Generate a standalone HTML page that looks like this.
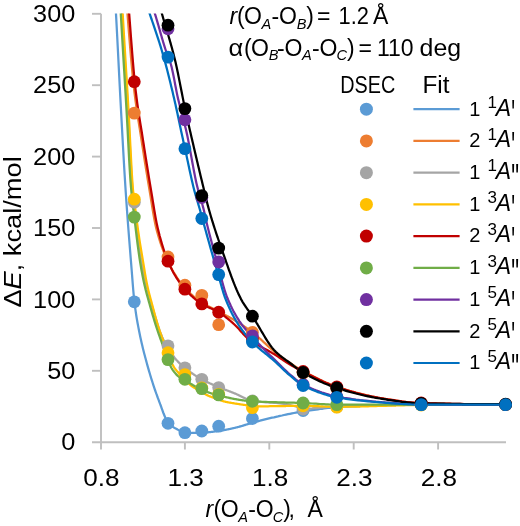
<!DOCTYPE html>
<html lang="en"><head><meta charset="utf-8"><title>Potential energy curves</title>
<style>
html,body{margin:0;padding:0;background:#fff}
svg{display:block}
</style></head>
<body>
<svg width="520" height="526" viewBox="0 0 520 526">
<defs><clipPath id="plot"><rect x="95" y="13.6" width="420" height="440"/></clipPath></defs>
<rect width="520" height="526" fill="#fff"/>
<g stroke="#BFBFBF" stroke-width="1.9" fill="none">
<path d="M101,13.7 V449.5"/>
<path d="M92,442.3 H506"/>
<path d="M92,370.8 H101"/>
<path d="M92,299.4 H101"/>
<path d="M92,228.0 H101"/>
<path d="M92,156.6 H101"/>
<path d="M92,85.2 H101"/>
<path d="M92,13.8 H101"/>
<path d="M184.9,442.3 V449.5"/>
<path d="M269.3,442.3 V449.5"/>
<path d="M353.7,442.3 V449.5"/>
<path d="M438.1,442.3 V449.5"/>
</g>
<g font-family="&quot;Liberation Sans&quot;, sans-serif" font-size="23" fill="#000" text-anchor="end">
<text x="75.3" y="450.4" textLength="14.1" lengthAdjust="spacingAndGlyphs">0</text>
<text x="75.3" y="379.0" textLength="28.1" lengthAdjust="spacingAndGlyphs">50</text>
<text x="75.3" y="307.6" textLength="42.2" lengthAdjust="spacingAndGlyphs">100</text>
<text x="75.3" y="236.2" textLength="42.2" lengthAdjust="spacingAndGlyphs">150</text>
<text x="75.3" y="164.8" textLength="42.2" lengthAdjust="spacingAndGlyphs">200</text>
<text x="75.3" y="93.4" textLength="42.2" lengthAdjust="spacingAndGlyphs">250</text>
<text x="75.3" y="22.0" textLength="42.2" lengthAdjust="spacingAndGlyphs">300</text>
</g>
<g font-family="&quot;Liberation Sans&quot;, sans-serif" font-size="23" fill="#000" text-anchor="middle">
<text x="101.3" y="486" textLength="36.3" lengthAdjust="spacingAndGlyphs">0.8</text>
<text x="185.7" y="486" textLength="36.3" lengthAdjust="spacingAndGlyphs">1.3</text>
<text x="270.1" y="486" textLength="36.3" lengthAdjust="spacingAndGlyphs">1.8</text>
<text x="354.5" y="486" textLength="36.3" lengthAdjust="spacingAndGlyphs">2.3</text>
<text x="438.9" y="486" textLength="36.3" lengthAdjust="spacingAndGlyphs">2.8</text>
</g>
<text font-family="&quot;Liberation Sans&quot;, sans-serif" font-size="23" fill="#000" transform="translate(21,307.6) rotate(-90)" textLength="151.3" lengthAdjust="spacingAndGlyphs">Δ<tspan font-style="italic">E</tspan>, kcal/mol</text>
<text font-family="&quot;Liberation Sans&quot;, sans-serif" font-size="23" fill="#000" y="517.3"><tspan x="205.5" font-style="italic">r</tspan><tspan x="213.5">(</tspan><tspan x="220.75">O</tspan><tspan x="238.3" dy="4.6" font-size="14.6" font-style="italic">A</tspan><tspan x="248.25" dy="-4.6">-</tspan><tspan x="255.75">O</tspan><tspan x="272.75" dy="4.6" font-size="14.6" font-style="italic">C</tspan><tspan x="283.25" dy="-4.6">)</tspan><tspan x="288.5">,</tspan><tspan x="301.1"> Å</tspan></text>
<text font-family="&quot;Liberation Sans&quot;, sans-serif" font-size="23" fill="#000" y="24.3"><tspan x="229.5" font-style="italic">r</tspan><tspan x="237">(</tspan><tspan x="244">O</tspan><tspan x="261.5" dy="4.6" font-size="14.6" font-style="italic">A</tspan><tspan x="271.5" dy="-4.6">-</tspan><tspan x="279">O</tspan><tspan x="296.75" dy="4.6" font-size="14.6" font-style="italic">B</tspan><tspan x="306.25" dy="-4.6">)</tspan><tspan x="310.6"> = </tspan><tspan x="338.6" textLength="30.4" lengthAdjust="spacingAndGlyphs">1.2</tspan><tspan x="366.6"> Å</tspan></text>
<text font-family="&quot;Liberation Sans&quot;, sans-serif" font-size="23" fill="#000" y="55.6"><tspan x="228.5" textLength="14.7" lengthAdjust="spacingAndGlyphs">α</tspan><tspan x="244">(</tspan><tspan x="251">O</tspan><tspan x="268.75" dy="4.6" font-size="14.6" font-style="italic">B</tspan><tspan x="277" dy="-4.6">-</tspan><tspan x="284.5">O</tspan><tspan x="302" dy="4.6" font-size="14.6" font-style="italic">A</tspan><tspan x="312" dy="-4.6">-</tspan><tspan x="319.5">O</tspan><tspan x="336.5" dy="4.6" font-size="14.6" font-style="italic">C</tspan><tspan x="347" dy="-4.6">)</tspan><tspan x="352.1"> = </tspan><tspan x="376.9">110</tspan><tspan x="412.6" textLength="48.5" lengthAdjust="spacingAndGlyphs"> deg</tspan></text>
<text font-family="&quot;Liberation Sans&quot;, sans-serif" font-size="23" fill="#000" x="340.3" y="92.8" textLength="55" lengthAdjust="spacingAndGlyphs">DSEC</text>
<text font-family="&quot;Liberation Sans&quot;, sans-serif" font-size="23" fill="#000" x="422.5" y="92.8" textLength="27" lengthAdjust="spacingAndGlyphs">Fit</text>
<circle cx="366.4" cy="109.2" r="6.5" fill="#5B9BD5"/>
<path d="M413.4,109.2 H459.6" stroke="#5B9BD5" stroke-width="2.2" fill="none"/>
<text font-family="&quot;Liberation Sans&quot;, sans-serif" fill="#000" y="115.5"><tspan x="469.2" font-size="20">1</tspan><tspan x="487.4" font-size="17" dy="-7.7">1</tspan><tspan x="495.7" font-size="23" font-style="italic" dy="7.7">A</tspan></text>
<text font-family="&quot;Liberation Sans&quot;, sans-serif" fill="#000" font-size="20" transform="translate(511.2,127.1) scale(1,1.9)">'</text>
<circle cx="366.4" cy="140.9" r="6.5" fill="#ED7D31"/>
<path d="M413.4,140.9 H459.6" stroke="#ED7D31" stroke-width="2.2" fill="none"/>
<text font-family="&quot;Liberation Sans&quot;, sans-serif" fill="#000" y="147.2"><tspan x="469.2" font-size="20">2</tspan><tspan x="487.4" font-size="17" dy="-7.7">1</tspan><tspan x="495.7" font-size="23" font-style="italic" dy="7.7">A</tspan></text>
<text font-family="&quot;Liberation Sans&quot;, sans-serif" fill="#000" font-size="20" transform="translate(511.2,158.8) scale(1,1.9)">'</text>
<circle cx="366.4" cy="172.7" r="6.5" fill="#A5A5A5"/>
<path d="M413.4,172.7 H459.6" stroke="#A5A5A5" stroke-width="2.2" fill="none"/>
<text font-family="&quot;Liberation Sans&quot;, sans-serif" fill="#000" y="179.0"><tspan x="469.2" font-size="20">1</tspan><tspan x="487.4" font-size="17" dy="-7.7">1</tspan><tspan x="495.7" font-size="23" font-style="italic" dy="7.7">A</tspan></text>
<text font-family="&quot;Liberation Sans&quot;, sans-serif" fill="#000" font-size="20" transform="translate(511.3,190.6) scale(1.1,1.9)">"</text>
<circle cx="366.4" cy="204.4" r="6.5" fill="#FFC000"/>
<path d="M413.4,204.4 H459.6" stroke="#FFC000" stroke-width="2.2" fill="none"/>
<text font-family="&quot;Liberation Sans&quot;, sans-serif" fill="#000" y="210.7"><tspan x="469.2" font-size="20">1</tspan><tspan x="487.4" font-size="17" dy="-7.7">3</tspan><tspan x="495.7" font-size="23" font-style="italic" dy="7.7">A</tspan></text>
<text font-family="&quot;Liberation Sans&quot;, sans-serif" fill="#000" font-size="20" transform="translate(511.2,222.3) scale(1,1.9)">'</text>
<circle cx="366.4" cy="236.1" r="6.5" fill="#C00000"/>
<path d="M413.4,236.1 H459.6" stroke="#C00000" stroke-width="2.2" fill="none"/>
<text font-family="&quot;Liberation Sans&quot;, sans-serif" fill="#000" y="242.4"><tspan x="469.2" font-size="20">2</tspan><tspan x="487.4" font-size="17" dy="-7.7">3</tspan><tspan x="495.7" font-size="23" font-style="italic" dy="7.7">A</tspan></text>
<text font-family="&quot;Liberation Sans&quot;, sans-serif" fill="#000" font-size="20" transform="translate(511.2,254.0) scale(1,1.9)">'</text>
<circle cx="366.4" cy="267.9" r="6.5" fill="#70AD47"/>
<path d="M413.4,267.9 H459.6" stroke="#70AD47" stroke-width="2.2" fill="none"/>
<text font-family="&quot;Liberation Sans&quot;, sans-serif" fill="#000" y="274.2"><tspan x="469.2" font-size="20">1</tspan><tspan x="487.4" font-size="17" dy="-7.7">3</tspan><tspan x="495.7" font-size="23" font-style="italic" dy="7.7">A</tspan></text>
<text font-family="&quot;Liberation Sans&quot;, sans-serif" fill="#000" font-size="20" transform="translate(511.3,285.8) scale(1.1,1.9)">"</text>
<circle cx="366.4" cy="299.6" r="6.5" fill="#7030A0"/>
<path d="M413.4,299.6 H459.6" stroke="#7030A0" stroke-width="2.2" fill="none"/>
<text font-family="&quot;Liberation Sans&quot;, sans-serif" fill="#000" y="305.9"><tspan x="469.2" font-size="20">1</tspan><tspan x="487.4" font-size="17" dy="-7.7">5</tspan><tspan x="495.7" font-size="23" font-style="italic" dy="7.7">A</tspan></text>
<text font-family="&quot;Liberation Sans&quot;, sans-serif" fill="#000" font-size="20" transform="translate(511.2,317.5) scale(1,1.9)">'</text>
<circle cx="366.4" cy="331.3" r="6.5" fill="#000000"/>
<path d="M413.4,331.3 H459.6" stroke="#000000" stroke-width="2.2" fill="none"/>
<text font-family="&quot;Liberation Sans&quot;, sans-serif" fill="#000" y="337.6"><tspan x="469.2" font-size="20">2</tspan><tspan x="487.4" font-size="17" dy="-7.7">5</tspan><tspan x="495.7" font-size="23" font-style="italic" dy="7.7">A</tspan></text>
<text font-family="&quot;Liberation Sans&quot;, sans-serif" fill="#000" font-size="20" transform="translate(511.2,349.2) scale(1,1.9)">'</text>
<circle cx="366.4" cy="363.0" r="6.5" fill="#0070C0"/>
<path d="M413.4,363.0 H459.6" stroke="#0070C0" stroke-width="2.2" fill="none"/>
<text font-family="&quot;Liberation Sans&quot;, sans-serif" fill="#000" y="369.3"><tspan x="469.2" font-size="20">1</tspan><tspan x="487.4" font-size="17" dy="-7.7">5</tspan><tspan x="495.7" font-size="23" font-style="italic" dy="7.7">A</tspan></text>
<text font-family="&quot;Liberation Sans&quot;, sans-serif" fill="#000" font-size="20" transform="translate(511.3,380.9) scale(1.1,1.9)">"</text>
<g clip-path="url(#plot)" fill="none" stroke-width="2.25" stroke-linejoin="round" stroke-linecap="round">
<path d="M115.2,0.0 L115.7,8.7 L116.2,17.6 L116.7,27.0 L117.2,36.5 L117.7,46.2 L118.2,56.0 L118.7,65.9 L119.2,75.7 L119.7,85.5 L120.2,95.1 L120.7,104.5 L121.2,113.7 L121.7,122.8 L122.2,132.0 L122.7,141.0 L123.2,150.0 L123.7,158.8 L124.2,167.5 L124.7,175.8 L125.2,183.8 L125.7,191.5 L126.2,198.9 L126.7,206.1 L127.2,213.0 L127.7,219.8 L128.2,226.5 L128.7,233.0 L129.2,239.4 L129.7,245.7 L130.2,251.9 L130.7,258.1 L131.2,264.3 L131.7,270.5 L132.2,276.9 L132.7,283.3 L133.2,289.5 L133.7,295.2 L134.2,300.2 L134.7,304.3 L135.2,308.1 L135.7,311.7 L136.2,315.0 L136.7,318.1 L137.2,321.0 L137.7,323.7 L138.2,326.4 L138.7,329.0 L139.2,331.5 L139.7,334.0 L140.2,336.4 L140.7,338.7 L141.2,341.0 L141.7,343.2 L142.2,345.3 L142.7,347.4 L143.2,349.4 L143.7,351.4 L144.2,353.4 L144.7,355.3 L145.2,357.2 L145.7,359.0 L146.2,360.9 L146.7,362.7 L147.2,364.6 L147.7,366.4 L148.2,368.1 L148.7,369.9 L149.2,371.6 L149.7,373.3 L150.2,375.0 L150.7,376.6 L151.2,378.3 L151.7,379.9 L152.2,381.4 L152.7,383.0 L153.2,384.6 L153.7,386.1 L154.2,387.6 L154.7,389.1 L155.2,390.5 L155.7,392.0 L156.2,393.4 L156.7,394.7 L157.2,396.1 L157.7,397.5 L158.2,398.8 L158.7,400.1 L159.2,401.5 L159.7,402.8 L160.2,404.2 L160.7,405.5 L161.2,406.9 L161.7,408.3 L162.2,409.7 L162.7,411.1 L163.2,412.5 L163.7,413.8 L164.2,415.0 L164.7,416.2 L165.2,417.4 L165.7,418.6 L166.2,419.8 L166.7,420.8 L167.2,421.7 L167.7,422.5 L168.2,423.1 L168.7,423.6 L169.2,424.1 L169.7,424.5 L170.2,425.0 L170.7,425.4 L171.2,425.8 L171.7,426.1 L172.2,426.5 L172.7,426.8 L173.2,427.1 L173.7,427.4 L174.2,427.7 L174.7,428.0 L175.2,428.3 L175.7,428.5 L176.2,428.8 L176.7,429.1 L177.2,429.3 L177.7,429.6 L178.2,429.9 L178.7,430.2 L179.2,430.5 L179.7,430.8 L180.2,431.1 L180.7,431.4 L181.2,431.7 L181.7,431.9 L182.2,432.2 L182.7,432.4 L183.2,432.6 L183.7,432.7 L184.2,432.9 L184.7,433.0 L185.2,433.0 L185.7,433.0 L186.2,433.0 L186.7,433.0 L187.2,433.0 L187.7,433.0 L188.2,433.0 L188.7,433.0 L189.2,433.0 L189.7,433.0 L190.2,433.0 L190.7,433.0 L191.2,433.0 L191.7,432.9 L192.2,432.9 L192.7,432.9 L193.2,432.9 L193.7,432.9 L194.2,432.9 L194.7,432.9 L195.2,432.9 L195.7,432.9 L196.2,432.9 L196.7,432.8 L197.2,432.8 L197.7,432.8 L198.2,432.8 L198.7,432.8 L199.2,432.8 L199.7,432.8 L200.2,432.7 L200.7,432.7 L201.2,432.7 L201.7,432.7 L202.2,432.7 L202.7,432.7 L203.2,432.6 L203.7,432.6 L204.2,432.6 L204.7,432.5 L205.2,432.5 L205.7,432.5 L206.2,432.4 L206.7,432.4 L207.2,432.3 L207.7,432.3 L208.2,432.3 L208.7,432.2 L209.2,432.2 L209.7,432.1 L210.2,432.0 L210.7,432.0 L211.2,431.9 L211.7,431.9 L212.2,431.8 L212.7,431.8 L213.2,431.7 L213.7,431.6 L214.2,431.6 L214.7,431.5 L215.2,431.4 L215.7,431.4 L216.2,431.3 L216.7,431.3 L217.2,431.2 L217.7,431.1 L218.2,431.1 L218.7,431.0 L219.2,430.9 L219.7,430.8 L220.2,430.8 L220.7,430.7 L221.2,430.6 L221.7,430.5 L222.2,430.5 L222.7,430.4 L223.2,430.3 L223.7,430.2 L224.2,430.1 L224.7,430.0 L225.2,429.9 L225.7,429.8 L226.2,429.7 L226.7,429.6 L227.2,429.5 L227.7,429.4 L228.2,429.3 L228.7,429.2 L229.2,429.1 L229.7,429.0 L230.2,428.9 L230.7,428.8 L231.2,428.7 L231.7,428.5 L232.2,428.4 L232.7,428.3 L233.2,428.2 L233.7,428.1 L234.2,428.0 L234.7,427.9 L235.2,427.7 L235.7,427.6 L236.2,427.5 L236.7,427.4 L237.2,427.3 L237.7,427.1 L238.2,427.0 L238.7,426.9 L239.2,426.7 L239.7,426.6 L240.2,426.4 L240.7,426.3 L241.2,426.2 L241.7,426.0 L242.2,425.9 L242.7,425.7 L243.2,425.6 L243.7,425.4 L244.2,425.2 L244.7,425.1 L245.2,424.9 L245.7,424.8 L246.2,424.6 L246.7,424.5 L247.2,424.3 L247.7,424.2 L248.2,424.0 L248.7,423.9 L249.2,423.7 L249.7,423.6 L250.2,423.4 L250.7,423.3 L251.2,423.1 L251.7,423.0 L252.2,422.8 L252.7,422.7 L253.2,422.6 L253.7,422.4 L254.2,422.3 L254.7,422.2 L255.2,422.0 L255.7,421.9 L256.2,421.8 L256.7,421.6 L257.2,421.5 L257.7,421.4 L258.2,421.2 L258.7,421.1 L259.2,421.0 L259.7,420.8 L260.0,420.7 L262.0,420.2 L264.0,419.7 L266.0,419.2 L268.0,418.7 L270.0,418.2 L272.0,417.7 L274.0,417.3 L276.0,416.8 L278.0,416.4 L280.0,415.9 L282.0,415.5 L284.0,415.0 L286.0,414.6 L288.0,414.2 L290.0,413.8 L292.0,413.4 L294.0,413.0 L296.0,412.6 L298.0,412.2 L300.0,411.9 L302.0,411.5 L304.0,411.2 L306.0,410.9 L308.0,410.6 L310.0,410.4 L312.0,410.1 L314.0,409.8 L316.0,409.6 L318.0,409.3 L320.0,409.0 L322.0,408.8 L324.0,408.5 L326.0,408.2 L328.0,408.0 L330.0,407.8 L332.0,407.6 L334.0,407.4 L336.0,407.2 L338.0,407.1 L340.0,407.0 L342.0,406.9 L344.0,406.8 L346.0,406.7 L348.0,406.6 L350.0,406.5 L352.0,406.4 L354.0,406.4 L356.0,406.3 L358.0,406.2 L360.0,406.1 L362.0,406.0 L364.0,405.9 L366.0,405.8 L368.0,405.8 L370.0,405.7 L372.0,405.6 L374.0,405.6 L376.0,405.5 L378.0,405.4 L380.0,405.4 L382.0,405.3 L384.0,405.2 L386.0,405.2 L388.0,405.1 L390.0,405.1 L392.0,405.0 L394.0,405.0 L396.0,405.0 L398.0,404.9 L400.0,404.9 L402.0,404.8 L404.0,404.8 L406.0,404.8 L408.0,404.8 L410.0,404.8 L412.0,404.7 L414.0,404.7 L416.0,404.7 L418.0,404.7 L420.0,404.7 L422.0,404.7 L424.0,404.7 L426.0,404.7 L428.0,404.7 L430.0,404.7 L432.0,404.7 L434.0,404.7 L436.0,404.7 L438.0,404.7 L440.0,404.7 L442.0,404.7 L444.0,404.7 L446.0,404.7 L448.0,404.7 L450.0,404.7 L452.0,404.7 L454.0,404.7 L456.0,404.7 L458.0,404.7 L460.0,404.7 L462.0,404.7 L464.0,404.7 L466.0,404.7 L468.0,404.7 L470.0,404.7 L472.0,404.7 L474.0,404.7 L476.0,404.7 L478.0,404.7 L480.0,404.7 L482.0,404.7 L484.0,404.7 L486.0,404.7 L488.0,404.7 L490.0,404.7 L492.0,404.7 L494.0,404.7 L496.0,404.7 L498.0,404.7 L500.0,404.7 L502.0,404.7 L504.0,404.7 L505.6,404.7" stroke="#5B9BD5"/>
<path d="M126.5,0.0 L127.0,7.2 L127.5,14.0 L128.0,20.4 L128.5,26.8 L129.0,33.1 L129.5,39.3 L130.0,45.5 L130.5,51.5 L131.0,57.3 L131.5,63.0 L132.0,68.5 L132.5,73.8 L133.0,78.9 L133.5,83.7 L134.0,88.3 L134.5,92.5 L135.0,96.6 L135.5,100.5 L136.0,104.2 L136.5,107.8 L137.0,111.2 L137.5,114.6 L138.0,117.8 L138.5,121.0 L139.0,124.2 L139.5,127.3 L140.0,130.4 L140.5,133.6 L141.0,136.8 L141.5,140.0 L142.0,143.3 L142.5,146.5 L143.0,149.7 L143.5,152.9 L144.0,156.1 L144.5,159.3 L145.0,162.5 L145.5,165.6 L146.0,168.7 L146.5,171.8 L147.0,174.9 L147.5,178.0 L148.0,181.0 L148.5,184.0 L149.0,187.0 L149.5,190.0 L150.0,193.0 L150.5,196.1 L151.0,199.2 L151.5,202.3 L152.0,205.4 L152.5,208.5 L153.0,211.6 L153.5,214.5 L154.0,217.4 L154.5,220.1 L155.0,222.6 L155.5,225.0 L156.0,227.2 L156.5,229.2 L157.0,231.1 L157.5,232.9 L158.0,234.7 L158.5,236.4 L159.0,238.1 L159.5,239.7 L160.0,241.3 L160.5,242.9 L161.0,244.3 L161.5,245.8 L162.0,247.2 L162.5,248.5 L163.0,249.9 L163.5,251.2 L164.0,252.4 L164.5,253.7 L165.0,254.9 L165.5,256.1 L166.0,257.2 L166.5,258.4 L167.0,259.5 L167.5,260.6 L168.0,261.7 L168.5,262.7 L169.0,263.8 L169.5,264.7 L170.0,265.7 L170.5,266.7 L171.0,267.6 L171.5,268.5 L172.0,269.4 L172.5,270.3 L173.0,271.1 L173.5,272.0 L174.0,272.8 L174.5,273.6 L175.0,274.4 L175.5,275.2 L176.0,276.0 L176.5,276.8 L177.0,277.5 L177.5,278.3 L178.0,279.0 L178.5,279.8 L179.0,280.5 L179.5,281.2 L180.0,281.9 L180.5,282.6 L181.0,283.3 L181.5,283.9 L182.0,284.6 L182.5,285.2 L183.0,285.8 L183.5,286.4 L184.0,287.0 L184.5,287.6 L185.0,288.1 L185.5,288.6 L186.0,289.2 L186.5,289.7 L187.0,290.2 L187.5,290.7 L188.0,291.2 L188.5,291.7 L189.0,292.2 L189.5,292.7 L190.0,293.1 L190.5,293.6 L191.0,294.1 L191.5,294.5 L192.0,295.0 L192.5,295.4 L193.0,295.8 L193.5,296.3 L194.0,296.7 L194.5,297.1 L195.0,297.5 L195.5,297.9 L196.0,298.3 L196.5,298.7 L197.0,299.1 L197.5,299.5 L198.0,299.8 L198.5,300.2 L199.0,300.6 L199.5,300.9 L200.0,301.3 L200.5,301.6 L201.0,302.0 L201.5,302.3 L202.0,302.6 L202.5,303.0 L203.0,303.3 L203.5,303.6 L204.0,303.9 L204.5,304.2 L205.0,304.5 L205.5,304.7 L206.0,305.0 L206.5,305.3 L207.0,305.6 L207.5,305.8 L208.0,306.1 L208.5,306.4 L209.0,306.6 L209.5,306.9 L210.0,307.1 L210.5,307.4 L211.0,307.6 L211.5,307.9 L212.0,308.1 L212.5,308.4 L213.0,308.6 L213.5,308.8 L214.0,309.1 L214.5,309.3 L215.0,309.6 L215.5,309.8 L216.0,310.1 L216.5,310.3 L217.0,310.6 L217.5,310.9 L218.0,311.1 L218.5,311.4 L219.0,311.7 L219.5,311.9 L220.0,312.2 L220.5,312.5 L221.0,312.7 L221.5,313.0 L222.0,313.3 L222.5,313.5 L223.0,313.8 L223.5,314.1 L224.0,314.3 L224.5,314.6 L225.0,314.9 L225.5,315.1 L226.0,315.4 L226.5,315.7 L227.0,316.0 L227.5,316.2 L228.0,316.5 L228.5,316.8 L229.0,317.0 L229.5,317.3 L230.0,317.6 L230.5,317.9 L231.0,318.2 L231.5,318.4 L232.0,318.7 L232.5,319.0 L233.0,319.3 L233.5,319.6 L234.0,319.9 L234.5,320.2 L235.0,320.5 L235.5,320.8 L236.0,321.1 L236.5,321.4 L237.0,321.7 L237.5,322.0 L238.0,322.3 L238.5,322.7 L239.0,323.0 L239.5,323.3 L240.0,323.6 L240.5,323.9 L241.0,324.3 L241.5,324.6 L242.0,324.9 L242.5,325.3 L243.0,325.6 L243.5,325.9 L244.0,326.3 L244.5,326.6 L245.0,326.9 L245.5,327.3 L246.0,327.6 L246.5,328.0 L247.0,328.3 L247.5,328.7 L248.0,329.1 L248.5,329.4 L249.0,329.8 L249.5,330.1 L250.0,330.5 L250.5,330.9 L251.0,331.2 L251.5,331.6 L252.0,332.0 L252.5,332.4 L253.0,332.8 L253.5,333.2 L254.0,333.6 L254.5,334.0 L255.0,334.4 L255.5,334.8 L256.0,335.2 L256.5,335.6 L257.0,336.1 L257.5,336.5 L258.0,336.9 L258.5,337.4 L259.0,337.8 L259.5,338.3 L260.0,338.7 L262.0,340.5 L264.0,342.4 L266.0,344.2 L268.0,346.1 L270.0,347.9 L272.0,349.6 L274.0,351.3 L276.0,352.9 L278.0,354.4 L280.0,355.9 L282.0,357.4 L284.0,358.9 L286.0,360.3 L288.0,361.7 L290.0,363.0 L292.0,364.3 L294.0,365.6 L296.0,366.9 L298.0,368.1 L300.0,369.3 L302.0,370.4 L304.0,371.5 L306.0,372.6 L308.0,373.6 L310.0,374.7 L312.0,375.7 L314.0,376.8 L316.0,377.8 L318.0,378.8 L320.0,379.8 L322.0,380.7 L324.0,381.7 L326.0,382.6 L328.0,383.4 L330.0,384.3 L332.0,385.1 L334.0,385.8 L336.0,386.5 L338.0,387.2 L340.0,387.9 L342.0,388.5 L344.0,389.1 L346.0,389.8 L348.0,390.4 L350.0,391.0 L352.0,391.6 L354.0,392.1 L356.0,392.7 L358.0,393.2 L360.0,393.7 L362.0,394.2 L364.0,394.7 L366.0,395.2 L368.0,395.6 L370.0,396.1 L372.0,396.5 L374.0,396.9 L376.0,397.3 L378.0,397.7 L380.0,398.0 L382.0,398.3 L384.0,398.7 L386.0,399.0 L388.0,399.4 L390.0,399.7 L392.0,400.0 L394.0,400.3 L396.0,400.6 L398.0,400.9 L400.0,401.2 L402.0,401.5 L404.0,401.8 L406.0,402.0 L408.0,402.2 L410.0,402.5 L412.0,402.6 L414.0,402.8 L416.0,402.9 L418.0,403.1 L420.0,403.2 L422.0,403.2 L424.0,403.3 L426.0,403.3 L428.0,403.4 L430.0,403.5 L432.0,403.5 L434.0,403.6 L436.0,403.6 L438.0,403.7 L440.0,403.7 L442.0,403.8 L444.0,403.8 L446.0,403.8 L448.0,403.9 L450.0,403.9 L452.0,404.0 L454.0,404.0 L456.0,404.0 L458.0,404.1 L460.0,404.1 L462.0,404.1 L464.0,404.2 L466.0,404.2 L468.0,404.2 L470.0,404.3 L472.0,404.3 L474.0,404.3 L476.0,404.3 L478.0,404.4 L480.0,404.4 L482.0,404.4 L484.0,404.4 L486.0,404.4 L488.0,404.4 L490.0,404.5 L492.0,404.5 L494.0,404.5 L496.0,404.5 L498.0,404.5 L500.0,404.5 L502.0,404.5 L504.0,404.5 L505.6,404.5" stroke="#ED7D31"/>
<path d="M121.2,0.0 L121.7,8.8 L122.2,17.4 L122.7,25.6 L123.2,33.8 L123.7,41.8 L124.2,49.6 L124.7,57.5 L125.2,65.3 L125.7,73.1 L126.2,80.9 L126.7,88.8 L127.2,96.9 L127.7,105.0 L128.2,113.4 L128.7,122.4 L129.2,132.0 L129.7,141.8 L130.2,151.6 L130.7,161.1 L131.2,170.0 L131.7,178.2 L132.2,185.3 L132.7,191.0 L133.2,195.5 L133.7,199.3 L134.2,203.2 L134.7,207.5 L135.2,212.0 L135.7,216.7 L136.2,221.4 L136.7,226.2 L137.2,230.9 L137.7,235.5 L138.2,239.9 L138.7,244.1 L139.2,247.9 L139.7,251.3 L140.2,254.6 L140.7,257.7 L141.2,260.7 L141.7,263.6 L142.2,266.3 L142.7,269.0 L143.2,271.5 L143.7,274.0 L144.2,276.3 L144.7,278.6 L145.2,280.9 L145.7,283.0 L146.2,285.1 L146.7,287.0 L147.2,288.9 L147.7,290.8 L148.2,292.6 L148.7,294.4 L149.2,296.2 L149.7,297.9 L150.2,299.7 L150.7,301.5 L151.2,303.2 L151.7,305.0 L152.2,306.7 L152.7,308.4 L153.2,310.1 L153.7,311.7 L154.2,313.4 L154.7,315.0 L155.2,316.6 L155.7,318.3 L156.2,319.9 L156.7,321.6 L157.2,323.2 L157.7,324.8 L158.2,326.4 L158.7,327.9 L159.2,329.4 L159.7,330.8 L160.2,332.2 L160.7,333.5 L161.2,334.8 L161.7,336.0 L162.2,337.2 L162.7,338.3 L163.2,339.4 L163.7,340.5 L164.2,341.5 L164.7,342.5 L165.2,343.3 L165.7,344.2 L166.2,344.9 L166.7,345.6 L167.2,346.3 L167.7,347.1 L168.2,347.8 L168.7,348.6 L169.2,349.4 L169.7,350.1 L170.2,350.9 L170.7,351.8 L171.2,352.6 L171.7,353.4 L172.2,354.2 L172.7,354.9 L173.2,355.7 L173.7,356.4 L174.2,357.2 L174.7,357.9 L175.2,358.5 L175.7,359.1 L176.2,359.7 L176.7,360.3 L177.2,360.8 L177.7,361.4 L178.2,361.9 L178.7,362.4 L179.2,362.9 L179.7,363.4 L180.2,363.9 L180.7,364.3 L181.2,364.8 L181.7,365.2 L182.2,365.7 L182.7,366.1 L183.2,366.5 L183.7,366.9 L184.2,367.3 L184.7,367.7 L185.2,368.1 L185.7,368.5 L186.2,368.9 L186.7,369.3 L187.2,369.7 L187.7,370.1 L188.2,370.5 L188.7,370.9 L189.2,371.2 L189.7,371.6 L190.2,372.0 L190.7,372.3 L191.2,372.7 L191.7,373.0 L192.2,373.4 L192.7,373.7 L193.2,374.1 L193.7,374.4 L194.2,374.8 L194.7,375.1 L195.2,375.4 L195.7,375.8 L196.2,376.1 L196.7,376.4 L197.2,376.7 L197.7,377.0 L198.2,377.3 L198.7,377.6 L199.2,377.9 L199.7,378.2 L200.2,378.5 L200.7,378.8 L201.2,379.1 L201.7,379.3 L202.2,379.6 L202.7,379.9 L203.2,380.1 L203.7,380.4 L204.2,380.7 L204.7,380.9 L205.2,381.2 L205.7,381.4 L206.2,381.7 L206.7,381.9 L207.2,382.1 L207.7,382.4 L208.2,382.6 L208.7,382.8 L209.2,383.0 L209.7,383.3 L210.2,383.5 L210.7,383.7 L211.2,383.9 L211.7,384.1 L212.2,384.4 L212.7,384.6 L213.2,384.8 L213.7,385.0 L214.2,385.2 L214.7,385.4 L215.2,385.6 L215.7,385.8 L216.2,386.1 L216.7,386.3 L217.2,386.5 L217.7,386.7 L218.2,386.9 L218.7,387.1 L219.2,387.3 L219.7,387.5 L220.2,387.7 L220.7,387.9 L221.2,388.1 L221.7,388.3 L222.2,388.5 L222.7,388.7 L223.2,388.9 L223.7,389.1 L224.2,389.3 L224.7,389.5 L225.2,389.7 L225.7,389.9 L226.2,390.1 L226.7,390.3 L227.2,390.5 L227.7,390.7 L228.2,390.8 L228.7,391.0 L229.2,391.2 L229.7,391.4 L230.2,391.6 L230.7,391.8 L231.2,392.0 L231.7,392.2 L232.2,392.4 L232.7,392.6 L233.2,392.8 L233.7,393.0 L234.2,393.2 L234.7,393.4 L235.2,393.6 L235.7,393.8 L236.2,394.0 L236.7,394.2 L237.2,394.5 L237.7,394.7 L238.2,394.9 L238.7,395.2 L239.2,395.4 L239.7,395.7 L240.2,395.9 L240.7,396.2 L241.2,396.4 L241.7,396.7 L242.2,396.9 L242.7,397.2 L243.2,397.4 L243.7,397.7 L244.2,397.9 L244.7,398.1 L245.2,398.4 L245.7,398.6 L246.2,398.8 L246.7,399.0 L247.2,399.2 L247.7,399.4 L248.2,399.6 L248.7,399.8 L249.2,400.0 L249.7,400.1 L250.2,400.3 L250.7,400.4 L251.2,400.6 L251.7,400.7 L252.2,400.8 L252.7,400.9 L253.2,400.9 L253.7,401.0 L254.2,401.1 L254.7,401.2 L255.2,401.2 L255.7,401.3 L256.2,401.4 L256.7,401.4 L257.2,401.5 L257.7,401.6 L258.2,401.6 L258.7,401.7 L259.2,401.7 L259.7,401.8 L260.0,401.8 L262.0,402.0 L264.0,402.2 L266.0,402.3 L268.0,402.4 L270.0,402.6 L272.0,402.7 L274.0,402.9 L276.0,403.0 L278.0,403.2 L280.0,403.4 L282.0,403.6 L284.0,403.9 L286.0,404.2 L288.0,404.5 L290.0,405.0 L292.0,405.5 L294.0,406.0 L296.0,406.5 L298.0,407.2 L300.0,408.0 L302.0,408.6 L304.0,408.7 L306.0,408.7 L308.0,408.6 L310.0,408.5 L312.0,408.4 L314.0,408.2 L316.0,408.1 L318.0,407.9 L320.0,407.7 L322.0,407.6 L324.0,407.4 L326.0,407.2 L328.0,407.0 L330.0,406.9 L332.0,406.7 L334.0,406.6 L336.0,406.5 L338.0,406.5 L340.0,406.4 L342.0,406.3 L344.0,406.3 L346.0,406.2 L348.0,406.1 L350.0,406.1 L352.0,406.0 L354.0,405.9 L356.0,405.9 L358.0,405.8 L360.0,405.7 L362.0,405.7 L364.0,405.6 L366.0,405.6 L368.0,405.5 L370.0,405.5 L372.0,405.4 L374.0,405.4 L376.0,405.3 L378.0,405.3 L380.0,405.2 L382.0,405.2 L384.0,405.1 L386.0,405.1 L388.0,405.0 L390.0,405.0 L392.0,405.0 L394.0,404.9 L396.0,404.9 L398.0,404.9 L400.0,404.8 L402.0,404.8 L404.0,404.8 L406.0,404.8 L408.0,404.8 L410.0,404.7 L412.0,404.7 L414.0,404.7 L416.0,404.7 L418.0,404.7 L420.0,404.7 L422.0,404.7 L424.0,404.7 L426.0,404.7 L428.0,404.7 L430.0,404.7 L432.0,404.7 L434.0,404.7 L436.0,404.7 L438.0,404.7 L440.0,404.7 L442.0,404.7 L444.0,404.7 L446.0,404.7 L448.0,404.7 L450.0,404.7 L452.0,404.7 L454.0,404.7 L456.0,404.7 L458.0,404.7 L460.0,404.7 L462.0,404.7 L464.0,404.7 L466.0,404.7 L468.0,404.7 L470.0,404.7 L472.0,404.7 L474.0,404.7 L476.0,404.7 L478.0,404.7 L480.0,404.7 L482.0,404.7 L484.0,404.7 L486.0,404.7 L488.0,404.7 L490.0,404.7 L492.0,404.7 L494.0,404.7 L496.0,404.7 L498.0,404.7 L500.0,404.7 L502.0,404.7 L504.0,404.7 L505.6,404.7" stroke="#A5A5A5"/>
<path d="M121.9,0.0 L122.4,8.8 L122.9,17.4 L123.4,25.9 L123.9,34.2 L124.4,42.4 L124.9,50.6 L125.4,58.7 L125.9,66.9 L126.4,75.0 L126.9,83.2 L127.4,91.4 L127.9,99.8 L128.4,108.3 L128.9,117.1 L129.4,126.6 L129.9,136.5 L130.4,146.5 L130.9,156.3 L131.4,165.8 L131.9,174.5 L132.4,182.3 L132.9,188.9 L133.4,194.1 L133.9,198.4 L134.4,202.4 L134.9,206.4 L135.4,210.4 L135.9,214.3 L136.4,218.1 L136.9,221.8 L137.4,225.5 L137.9,229.1 L138.4,232.6 L138.9,236.0 L139.4,239.3 L139.9,242.6 L140.4,245.7 L140.9,248.8 L141.4,251.7 L141.9,254.7 L142.4,257.6 L142.9,260.6 L143.4,263.6 L143.9,266.7 L144.4,269.8 L144.9,272.9 L145.4,275.8 L145.9,278.7 L146.4,281.3 L146.9,283.8 L147.4,286.1 L147.9,288.2 L148.4,290.4 L148.9,292.4 L149.4,294.4 L149.9,296.3 L150.4,298.2 L150.9,300.0 L151.4,301.9 L151.9,303.7 L152.4,305.6 L152.9,307.5 L153.4,309.4 L153.9,311.3 L154.4,313.1 L154.9,315.0 L155.4,316.8 L155.9,318.6 L156.4,320.4 L156.9,322.2 L157.4,323.9 L157.9,325.5 L158.4,327.1 L158.9,328.7 L159.4,330.2 L159.9,331.6 L160.4,333.0 L160.9,334.4 L161.4,335.7 L161.9,337.1 L162.4,338.4 L162.9,339.7 L163.4,341.0 L163.9,342.4 L164.4,343.7 L164.9,345.1 L165.4,346.5 L165.9,347.9 L166.4,349.2 L166.9,350.5 L167.4,351.8 L167.9,353.1 L168.4,354.4 L168.9,355.7 L169.4,357.0 L169.9,358.3 L170.4,359.6 L170.9,360.8 L171.4,362.0 L171.9,363.1 L172.4,364.2 L172.9,365.2 L173.4,366.2 L173.9,367.0 L174.4,367.8 L174.9,368.5 L175.4,369.2 L175.9,369.8 L176.4,370.4 L176.9,371.0 L177.4,371.5 L177.9,372.1 L178.4,372.6 L178.9,373.2 L179.4,373.7 L179.9,374.3 L180.4,374.8 L180.9,375.4 L181.4,375.9 L181.9,376.4 L182.4,377.0 L182.9,377.5 L183.4,378.0 L183.9,378.5 L184.4,379.0 L184.9,379.5 L185.4,380.0 L185.9,380.5 L186.4,381.0 L186.9,381.5 L187.4,382.1 L187.9,382.6 L188.4,383.1 L188.9,383.6 L189.4,384.0 L189.9,384.5 L190.4,384.9 L190.9,385.4 L191.4,385.8 L191.9,386.1 L192.4,386.5 L192.9,386.9 L193.4,387.2 L193.9,387.5 L194.4,387.8 L194.9,388.1 L195.4,388.4 L195.9,388.7 L196.4,389.0 L196.9,389.3 L197.4,389.6 L197.9,389.8 L198.4,390.1 L198.9,390.4 L199.4,390.6 L199.9,390.9 L200.4,391.2 L200.9,391.5 L201.4,391.8 L201.9,392.1 L202.4,392.4 L202.9,392.7 L203.4,393.0 L203.9,393.3 L204.4,393.6 L204.9,393.9 L205.4,394.2 L205.9,394.5 L206.4,394.8 L206.9,395.1 L207.4,395.3 L207.9,395.6 L208.4,395.8 L208.9,396.0 L209.4,396.2 L209.9,396.4 L210.4,396.6 L210.9,396.8 L211.4,397.0 L211.9,397.2 L212.4,397.3 L212.9,397.5 L213.4,397.7 L213.9,397.9 L214.4,398.0 L214.9,398.2 L215.4,398.4 L215.9,398.5 L216.4,398.7 L216.9,398.9 L217.4,399.0 L217.9,399.2 L218.4,399.4 L218.9,399.6 L219.4,399.8 L219.9,400.0 L220.4,400.2 L220.9,400.4 L221.4,400.6 L221.9,400.8 L222.4,401.0 L222.9,401.1 L223.4,401.3 L223.9,401.4 L224.4,401.5 L224.9,401.6 L225.4,401.8 L225.9,401.9 L226.4,402.0 L226.9,402.1 L227.4,402.2 L227.9,402.3 L228.4,402.4 L228.9,402.5 L229.4,402.6 L229.9,402.7 L230.4,402.7 L230.9,402.8 L231.4,402.9 L231.9,403.0 L232.4,403.1 L232.9,403.2 L233.4,403.2 L233.9,403.3 L234.4,403.4 L234.9,403.5 L235.4,403.5 L235.9,403.6 L236.4,403.7 L236.9,403.8 L237.4,403.9 L237.9,403.9 L238.4,404.0 L238.9,404.1 L239.4,404.2 L239.9,404.3 L240.4,404.4 L240.9,404.4 L241.4,404.5 L241.9,404.6 L242.4,404.7 L242.9,404.7 L243.4,404.8 L243.9,404.9 L244.4,404.9 L244.9,405.0 L245.4,405.1 L245.9,405.1 L246.4,405.2 L246.9,405.2 L247.4,405.3 L247.9,405.4 L248.4,405.4 L248.9,405.5 L249.4,405.5 L249.9,405.6 L250.4,405.6 L250.9,405.7 L251.4,405.7 L251.9,405.8 L252.4,405.8 L252.9,405.9 L253.4,405.9 L253.9,406.0 L254.4,406.0 L254.9,406.1 L255.4,406.1 L255.9,406.1 L256.4,406.2 L256.9,406.2 L257.4,406.2 L257.9,406.3 L258.4,406.3 L258.9,406.3 L259.4,406.3 L259.9,406.3 L260.0,406.3 L262.0,406.3 L264.0,406.3 L266.0,406.3 L268.0,406.3 L270.0,406.2 L272.0,406.2 L274.0,406.2 L276.0,406.1 L278.0,406.1 L280.0,406.1 L282.0,406.0 L284.0,406.0 L286.0,406.0 L288.0,405.9 L290.0,405.9 L292.0,405.9 L294.0,405.9 L296.0,405.8 L298.0,405.8 L300.0,405.8 L302.0,405.8 L304.0,405.8 L306.0,405.8 L308.0,405.9 L310.0,405.9 L312.0,406.0 L314.0,406.0 L316.0,406.1 L318.0,406.2 L320.0,406.3 L322.0,406.4 L324.0,406.5 L326.0,406.6 L328.0,406.6 L330.0,406.7 L332.0,406.7 L334.0,406.8 L336.0,406.8 L338.0,406.8 L340.0,406.8 L342.0,406.8 L344.0,406.8 L346.0,406.7 L348.0,406.7 L350.0,406.7 L352.0,406.7 L354.0,406.6 L356.0,406.6 L358.0,406.5 L360.0,406.5 L362.0,406.4 L364.0,406.4 L366.0,406.3 L368.0,406.3 L370.0,406.2 L372.0,406.2 L374.0,406.1 L376.0,406.1 L378.0,406.0 L380.0,405.9 L382.0,405.9 L384.0,405.8 L386.0,405.8 L388.0,405.7 L390.0,405.6 L392.0,405.6 L394.0,405.5 L396.0,405.5 L398.0,405.4 L400.0,405.4 L402.0,405.3 L404.0,405.3 L406.0,405.2 L408.0,405.2 L410.0,405.1 L412.0,405.1 L414.0,405.1 L416.0,405.0 L418.0,405.0 L420.0,405.0 L422.0,405.0 L424.0,405.0 L426.0,405.0 L428.0,405.0 L430.0,404.9 L432.0,404.9 L434.0,404.9 L436.0,404.9 L438.0,404.9 L440.0,404.9 L442.0,404.9 L444.0,404.9 L446.0,404.9 L448.0,404.9 L450.0,404.8 L452.0,404.8 L454.0,404.8 L456.0,404.8 L458.0,404.8 L460.0,404.8 L462.0,404.8 L464.0,404.8 L466.0,404.8 L468.0,404.8 L470.0,404.8 L472.0,404.8 L474.0,404.7 L476.0,404.7 L478.0,404.7 L480.0,404.7 L482.0,404.7 L484.0,404.7 L486.0,404.7 L488.0,404.7 L490.0,404.7 L492.0,404.7 L494.0,404.7 L496.0,404.7 L498.0,404.7 L500.0,404.7 L502.0,404.7 L504.0,404.7 L505.6,404.7" stroke="#FFC000"/>
<path d="M128.2,0.0 L128.7,7.1 L129.2,14.0 L129.7,20.6 L130.2,27.2 L130.7,33.8 L131.2,40.3 L131.7,46.7 L132.2,53.1 L132.7,59.2 L133.2,65.2 L133.7,70.9 L134.2,76.4 L134.7,81.6 L135.2,86.4 L135.7,90.9 L136.2,95.0 L136.7,99.0 L137.2,102.8 L137.7,106.4 L138.2,109.8 L138.7,113.1 L139.2,116.4 L139.7,119.5 L140.2,122.6 L140.7,125.7 L141.2,128.7 L141.7,131.8 L142.2,134.9 L142.7,138.1 L143.2,141.3 L143.7,144.5 L144.2,147.8 L144.7,151.0 L145.2,154.2 L145.7,157.4 L146.2,160.5 L146.7,163.7 L147.2,166.8 L147.7,169.9 L148.2,173.0 L148.7,176.1 L149.2,179.2 L149.7,182.2 L150.2,185.2 L150.7,188.2 L151.2,191.2 L151.7,194.2 L152.2,197.3 L152.7,200.4 L153.2,203.5 L153.7,206.5 L154.2,209.6 L154.7,212.5 L155.2,215.4 L155.7,218.2 L156.2,220.9 L156.7,223.4 L157.2,225.8 L157.7,228.0 L158.2,230.1 L158.7,232.1 L159.2,234.0 L159.7,236.0 L160.2,237.8 L160.7,239.6 L161.2,241.4 L161.7,243.1 L162.2,244.8 L162.7,246.4 L163.2,248.0 L163.7,249.5 L164.2,251.0 L164.7,252.5 L165.2,253.9 L165.7,255.3 L166.2,256.6 L166.7,257.9 L167.2,259.2 L167.7,260.5 L168.2,261.7 L168.7,262.9 L169.2,264.0 L169.7,265.1 L170.2,266.2 L170.7,267.3 L171.2,268.3 L171.7,269.3 L172.2,270.3 L172.7,271.2 L173.2,272.2 L173.7,273.1 L174.2,274.0 L174.7,274.8 L175.2,275.7 L175.7,276.5 L176.2,277.3 L176.7,278.1 L177.2,278.9 L177.7,279.7 L178.2,280.4 L178.7,281.2 L179.2,281.9 L179.7,282.6 L180.2,283.3 L180.7,284.0 L181.2,284.7 L181.7,285.4 L182.2,286.0 L182.7,286.6 L183.2,287.2 L183.7,287.8 L184.2,288.4 L184.7,289.0 L185.2,289.5 L185.7,290.1 L186.2,290.6 L186.7,291.1 L187.2,291.6 L187.7,292.2 L188.2,292.7 L188.7,293.2 L189.2,293.7 L189.7,294.2 L190.2,294.6 L190.7,295.1 L191.2,295.6 L191.7,296.0 L192.2,296.5 L192.7,297.0 L193.2,297.4 L193.7,297.8 L194.2,298.3 L194.7,298.7 L195.2,299.1 L195.7,299.5 L196.2,299.9 L196.7,300.3 L197.2,300.7 L197.7,301.1 L198.2,301.4 L198.7,301.8 L199.2,302.2 L199.7,302.5 L200.2,302.9 L200.7,303.2 L201.2,303.5 L201.7,303.8 L202.2,304.1 L202.7,304.4 L203.2,304.7 L203.7,305.0 L204.2,305.3 L204.7,305.5 L205.2,305.8 L205.7,306.1 L206.2,306.3 L206.7,306.5 L207.2,306.8 L207.7,307.0 L208.2,307.2 L208.7,307.4 L209.2,307.6 L209.7,307.9 L210.2,308.1 L210.7,308.3 L211.2,308.5 L211.7,308.7 L212.2,308.9 L212.7,309.2 L213.2,309.4 L213.7,309.6 L214.2,309.8 L214.7,310.1 L215.2,310.3 L215.7,310.6 L216.2,310.8 L216.7,311.1 L217.2,311.3 L217.7,311.6 L218.2,311.9 L218.7,312.2 L219.2,312.5 L219.7,312.8 L220.2,313.1 L220.7,313.5 L221.2,313.8 L221.7,314.1 L222.2,314.5 L222.7,314.8 L223.2,315.2 L223.7,315.6 L224.2,315.9 L224.7,316.3 L225.2,316.7 L225.7,317.1 L226.2,317.5 L226.7,317.9 L227.2,318.3 L227.7,318.7 L228.2,319.1 L228.7,319.5 L229.2,319.9 L229.7,320.3 L230.2,320.7 L230.7,321.2 L231.2,321.6 L231.7,322.0 L232.2,322.5 L232.7,322.9 L233.2,323.4 L233.7,323.8 L234.2,324.3 L234.7,324.7 L235.2,325.2 L235.7,325.7 L236.2,326.2 L236.7,326.7 L237.2,327.2 L237.7,327.7 L238.2,328.3 L238.7,328.8 L239.2,329.4 L239.7,330.0 L240.2,330.6 L240.7,331.1 L241.2,331.7 L241.7,332.3 L242.2,332.8 L242.7,333.4 L243.2,334.0 L243.7,334.5 L244.2,335.0 L244.7,335.5 L245.2,336.0 L245.7,336.5 L246.2,336.9 L246.7,337.3 L247.2,337.7 L247.7,338.1 L248.2,338.5 L248.7,338.9 L249.2,339.3 L249.7,339.6 L250.2,340.0 L250.7,340.3 L251.2,340.7 L251.7,341.0 L252.2,341.4 L252.7,341.7 L253.2,342.0 L253.7,342.4 L254.2,342.7 L254.7,343.0 L255.2,343.3 L255.7,343.6 L256.2,343.9 L256.7,344.2 L257.2,344.5 L257.7,344.8 L258.2,345.1 L258.7,345.4 L259.2,345.7 L259.7,346.0 L260.0,346.1 L262.0,347.3 L264.0,348.4 L266.0,349.5 L268.0,350.6 L270.0,351.7 L272.0,352.9 L274.0,354.0 L276.0,355.3 L278.0,356.6 L280.0,358.0 L282.0,359.4 L284.0,360.7 L286.0,362.1 L288.0,363.4 L290.0,364.6 L292.0,365.7 L294.0,366.8 L296.0,367.9 L298.0,368.9 L300.0,370.0 L302.0,371.0 L304.0,371.9 L306.0,373.0 L308.0,374.0 L310.0,375.0 L312.0,376.0 L314.0,377.0 L316.0,378.0 L318.0,379.0 L320.0,380.0 L322.0,380.9 L324.0,381.9 L326.0,382.8 L328.0,383.6 L330.0,384.5 L332.0,385.3 L334.0,386.0 L336.0,386.7 L338.0,387.4 L340.0,388.0 L342.0,388.7 L344.0,389.3 L346.0,389.9 L348.0,390.5 L350.0,391.1 L352.0,391.7 L354.0,392.2 L356.0,392.8 L358.0,393.3 L360.0,393.8 L362.0,394.3 L364.0,394.8 L366.0,395.3 L368.0,395.7 L370.0,396.1 L372.0,396.5 L374.0,396.9 L376.0,397.3 L378.0,397.7 L380.0,398.0 L382.0,398.3 L384.0,398.7 L386.0,399.0 L388.0,399.3 L390.0,399.6 L392.0,399.9 L394.0,400.2 L396.0,400.5 L398.0,400.8 L400.0,401.1 L402.0,401.4 L404.0,401.6 L406.0,401.9 L408.0,402.1 L410.0,402.3 L412.0,402.5 L414.0,402.6 L416.0,402.8 L418.0,402.9 L420.0,403.0 L422.0,403.0 L424.0,403.1 L426.0,403.1 L428.0,403.2 L430.0,403.3 L432.0,403.3 L434.0,403.4 L436.0,403.4 L438.0,403.5 L440.0,403.5 L442.0,403.6 L444.0,403.6 L446.0,403.6 L448.0,403.7 L450.0,403.7 L452.0,403.8 L454.0,403.8 L456.0,403.8 L458.0,403.9 L460.0,403.9 L462.0,403.9 L464.0,404.0 L466.0,404.0 L468.0,404.0 L470.0,404.1 L472.0,404.1 L474.0,404.1 L476.0,404.1 L478.0,404.2 L480.0,404.2 L482.0,404.2 L484.0,404.2 L486.0,404.2 L488.0,404.2 L490.0,404.3 L492.0,404.3 L494.0,404.3 L496.0,404.3 L498.0,404.3 L500.0,404.3 L502.0,404.3 L504.0,404.3 L505.6,404.3" stroke="#C00000"/>
<path d="M120.0,0.0 L120.5,8.8 L121.0,17.4 L121.5,26.0 L122.0,34.5 L122.5,42.9 L123.0,51.2 L123.5,59.6 L124.0,67.9 L124.5,76.2 L125.0,84.6 L125.5,93.0 L126.0,101.5 L126.5,110.0 L127.0,118.9 L127.5,128.3 L128.0,137.9 L128.5,147.5 L129.0,156.9 L129.5,165.8 L130.0,174.0 L130.5,181.2 L131.0,187.3 L131.5,192.7 L132.0,197.6 L132.5,202.1 L133.0,206.3 L133.5,210.4 L134.0,214.5 L134.5,218.7 L135.0,222.9 L135.5,227.2 L136.0,231.4 L136.5,235.5 L137.0,239.6 L137.5,243.5 L138.0,247.4 L138.5,251.1 L139.0,254.7 L139.5,258.1 L140.0,261.3 L140.5,264.3 L141.0,267.3 L141.5,270.2 L142.0,272.9 L142.5,275.5 L143.0,278.1 L143.5,280.5 L144.0,282.8 L144.5,285.0 L145.0,287.1 L145.5,289.2 L146.0,291.1 L146.5,293.1 L147.0,294.9 L147.5,296.7 L148.0,298.5 L148.5,300.3 L149.0,302.1 L149.5,303.8 L150.0,305.6 L150.5,307.4 L151.0,309.1 L151.5,310.9 L152.0,312.6 L152.5,314.4 L153.0,316.1 L153.5,317.8 L154.0,319.4 L154.5,321.1 L155.0,322.7 L155.5,324.3 L156.0,325.9 L156.5,327.5 L157.0,329.0 L157.5,330.5 L158.0,332.0 L158.5,333.4 L159.0,334.8 L159.5,336.2 L160.0,337.6 L160.5,339.0 L161.0,340.3 L161.5,341.7 L162.0,343.1 L162.5,344.4 L163.0,345.8 L163.5,347.3 L164.0,348.7 L164.5,350.2 L165.0,351.7 L165.5,353.2 L166.0,354.7 L166.5,356.1 L167.0,357.5 L167.5,358.8 L168.0,360.1 L168.5,361.4 L169.0,362.6 L169.5,363.9 L170.0,365.0 L170.5,366.1 L171.0,367.1 L171.5,368.0 L172.0,368.8 L172.5,369.6 L173.0,370.3 L173.5,371.0 L174.0,371.7 L174.5,372.3 L175.0,372.9 L175.5,373.5 L176.0,374.1 L176.5,374.6 L177.0,375.1 L177.5,375.6 L178.0,376.0 L178.5,376.4 L179.0,376.8 L179.5,377.2 L180.0,377.5 L180.5,377.8 L181.0,378.1 L181.5,378.4 L182.0,378.6 L182.5,378.9 L183.0,379.2 L183.5,379.4 L184.0,379.7 L184.5,380.0 L185.0,380.3 L185.5,380.5 L186.0,380.8 L186.5,381.1 L187.0,381.4 L187.5,381.7 L188.0,382.1 L188.5,382.4 L189.0,382.7 L189.5,383.0 L190.0,383.3 L190.5,383.6 L191.0,383.9 L191.5,384.2 L192.0,384.5 L192.5,384.8 L193.0,385.1 L193.5,385.4 L194.0,385.7 L194.5,386.0 L195.0,386.3 L195.5,386.6 L196.0,386.9 L196.5,387.2 L197.0,387.4 L197.5,387.7 L198.0,388.0 L198.5,388.2 L199.0,388.5 L199.5,388.7 L200.0,389.0 L200.5,389.2 L201.0,389.5 L201.5,389.7 L202.0,389.9 L202.5,390.1 L203.0,390.3 L203.5,390.5 L204.0,390.7 L204.5,390.9 L205.0,391.1 L205.5,391.3 L206.0,391.5 L206.5,391.7 L207.0,391.9 L207.5,392.1 L208.0,392.3 L208.5,392.4 L209.0,392.6 L209.5,392.8 L210.0,393.0 L210.5,393.1 L211.0,393.3 L211.5,393.5 L212.0,393.6 L212.5,393.8 L213.0,393.9 L213.5,394.1 L214.0,394.2 L214.5,394.4 L215.0,394.5 L215.5,394.7 L216.0,394.8 L216.5,394.9 L217.0,395.1 L217.5,395.2 L218.0,395.3 L218.5,395.5 L219.0,395.6 L219.5,395.7 L220.0,395.8 L220.5,395.9 L221.0,396.0 L221.5,396.2 L222.0,396.3 L222.5,396.4 L223.0,396.5 L223.5,396.6 L224.0,396.7 L224.5,396.8 L225.0,397.0 L225.5,397.1 L226.0,397.2 L226.5,397.3 L227.0,397.4 L227.5,397.5 L228.0,397.6 L228.5,397.7 L229.0,397.8 L229.5,397.9 L230.0,398.1 L230.5,398.2 L231.0,398.3 L231.5,398.4 L232.0,398.5 L232.5,398.6 L233.0,398.7 L233.5,398.8 L234.0,398.9 L234.5,399.0 L235.0,399.0 L235.5,399.1 L236.0,399.2 L236.5,399.3 L237.0,399.4 L237.5,399.5 L238.0,399.6 L238.5,399.7 L239.0,399.8 L239.5,399.8 L240.0,399.9 L240.5,400.0 L241.0,400.1 L241.5,400.1 L242.0,400.2 L242.5,400.3 L243.0,400.4 L243.5,400.4 L244.0,400.5 L244.5,400.6 L245.0,400.6 L245.5,400.7 L246.0,400.7 L246.5,400.8 L247.0,400.8 L247.5,400.9 L248.0,401.0 L248.5,401.0 L249.0,401.0 L249.5,401.1 L250.0,401.1 L250.5,401.2 L251.0,401.2 L251.5,401.2 L252.0,401.3 L252.5,401.3 L253.0,401.3 L253.5,401.4 L254.0,401.4 L254.5,401.4 L255.0,401.4 L255.5,401.5 L256.0,401.5 L256.5,401.5 L257.0,401.5 L257.5,401.6 L258.0,401.6 L258.5,401.6 L259.0,401.6 L259.5,401.7 L260.0,401.7 L262.0,401.8 L264.0,401.9 L266.0,401.9 L268.0,402.0 L270.0,402.1 L272.0,402.1 L274.0,402.2 L276.0,402.2 L278.0,402.3 L280.0,402.3 L282.0,402.4 L284.0,402.4 L286.0,402.5 L288.0,402.5 L290.0,402.6 L292.0,402.6 L294.0,402.7 L296.0,402.8 L298.0,402.8 L300.0,402.9 L302.0,403.0 L304.0,403.0 L306.0,403.1 L308.0,403.2 L310.0,403.3 L312.0,403.5 L314.0,403.6 L316.0,403.7 L318.0,403.8 L320.0,404.0 L322.0,404.1 L324.0,404.2 L326.0,404.3 L328.0,404.4 L330.0,404.5 L332.0,404.5 L334.0,404.6 L336.0,404.6 L338.0,404.6 L340.0,404.6 L342.0,404.6 L344.0,404.6 L346.0,404.6 L348.0,404.6 L350.0,404.6 L352.0,404.6 L354.0,404.6 L356.0,404.6 L358.0,404.6 L360.0,404.7 L362.0,404.7 L364.0,404.7 L366.0,404.7 L368.0,404.7 L370.0,404.7 L372.0,404.7 L374.0,404.7 L376.0,404.7 L378.0,404.7 L380.0,404.7 L382.0,404.7 L384.0,404.7 L386.0,404.7 L388.0,404.7 L390.0,404.7 L392.0,404.7 L394.0,404.7 L396.0,404.7 L398.0,404.7 L400.0,404.7 L402.0,404.7 L404.0,404.7 L406.0,404.7 L408.0,404.7 L410.0,404.7 L412.0,404.7 L414.0,404.7 L416.0,404.7 L418.0,404.7 L420.0,404.7 L422.0,404.7 L424.0,404.7 L426.0,404.7 L428.0,404.7 L430.0,404.7 L432.0,404.7 L434.0,404.7 L436.0,404.7 L438.0,404.7 L440.0,404.7 L442.0,404.7 L444.0,404.7 L446.0,404.7 L448.0,404.7 L450.0,404.7 L452.0,404.7 L454.0,404.7 L456.0,404.7 L458.0,404.7 L460.0,404.7 L462.0,404.7 L464.0,404.7 L466.0,404.7 L468.0,404.7 L470.0,404.7 L472.0,404.7 L474.0,404.7 L476.0,404.7 L478.0,404.7 L480.0,404.7 L482.0,404.7 L484.0,404.7 L486.0,404.7 L488.0,404.7 L490.0,404.7 L492.0,404.7 L494.0,404.7 L496.0,404.7 L498.0,404.7 L500.0,404.7 L502.0,404.7 L504.0,404.7 L505.6,404.7" stroke="#70AD47"/>
<path d="M150.5,0.0 L151.0,1.5 L151.5,3.0 L152.0,4.6 L152.5,6.1 L153.0,7.7 L153.5,9.2 L154.0,10.8 L154.5,12.4 L155.0,14.0 L155.5,15.6 L156.0,17.3 L156.5,19.0 L157.0,20.6 L157.5,22.4 L158.0,24.1 L158.5,25.8 L159.0,27.6 L159.5,29.3 L160.0,31.1 L160.5,32.9 L161.0,34.6 L161.5,36.3 L162.0,38.1 L162.5,39.8 L163.0,41.5 L163.5,43.1 L164.0,44.8 L164.5,46.4 L165.0,48.0 L165.5,49.5 L166.0,51.0 L166.5,52.4 L167.0,53.8 L167.5,55.0 L168.0,56.3 L168.5,57.5 L169.0,58.7 L169.5,60.1 L170.0,61.5 L170.5,63.0 L171.0,64.7 L171.5,66.6 L172.0,68.7 L172.5,70.9 L173.0,73.3 L173.5,75.8 L174.0,78.3 L174.5,80.9 L175.0,83.6 L175.5,86.2 L176.0,88.8 L176.5,91.4 L177.0,93.9 L177.5,96.2 L178.0,98.4 L178.5,100.6 L179.0,102.6 L179.5,104.6 L180.0,106.6 L180.5,108.5 L181.0,110.4 L181.5,112.3 L182.0,114.2 L182.5,116.0 L183.0,117.9 L183.5,119.8 L184.0,121.7 L184.5,123.7 L185.0,125.7 L185.5,127.7 L186.0,129.8 L186.5,132.0 L187.0,134.3 L187.5,136.6 L188.0,139.1 L188.5,141.6 L189.0,144.2 L189.5,146.8 L190.0,149.5 L190.5,152.2 L191.0,155.0 L191.5,157.7 L192.0,160.5 L192.5,163.2 L193.0,165.9 L193.5,168.6 L194.0,171.2 L194.5,173.8 L195.0,176.4 L195.5,178.8 L196.0,181.2 L196.5,183.4 L197.0,185.6 L197.5,187.6 L198.0,189.6 L198.5,191.4 L199.0,193.2 L199.5,194.9 L200.0,196.6 L200.5,198.2 L201.0,199.9 L201.5,201.6 L202.0,203.3 L202.5,205.0 L203.0,206.9 L203.5,208.8 L204.0,210.8 L204.5,213.1 L205.0,215.4 L205.5,217.8 L206.0,220.0 L206.5,222.1 L207.0,224.2 L207.5,226.2 L208.0,228.2 L208.5,230.2 L209.0,232.2 L209.5,234.2 L210.0,236.1 L210.5,238.0 L211.0,239.9 L211.5,241.8 L212.0,243.7 L212.5,245.5 L213.0,247.4 L213.5,249.2 L214.0,251.1 L214.5,252.9 L215.0,254.7 L215.5,256.5 L216.0,258.4 L216.5,260.2 L217.0,262.0 L217.5,263.8 L218.0,265.7 L218.5,267.6 L219.0,269.5 L219.5,271.4 L220.0,273.3 L220.5,275.3 L221.0,277.2 L221.5,279.1 L222.0,280.9 L222.5,282.8 L223.0,284.6 L223.5,286.3 L224.0,288.0 L224.5,289.7 L225.0,291.3 L225.5,292.8 L226.0,294.3 L226.5,295.7 L227.0,297.0 L227.5,298.2 L228.0,299.5 L228.5,300.6 L229.0,301.8 L229.5,302.9 L230.0,304.1 L230.5,305.1 L231.0,306.2 L231.5,307.2 L232.0,308.3 L232.5,309.3 L233.0,310.2 L233.5,311.2 L234.0,312.1 L234.5,313.0 L235.0,313.9 L235.5,314.8 L236.0,315.7 L236.5,316.5 L237.0,317.3 L237.5,318.1 L238.0,318.9 L238.5,319.7 L239.0,320.5 L239.5,321.3 L240.0,322.0 L240.5,322.7 L241.0,323.4 L241.5,324.1 L242.0,324.8 L242.5,325.5 L243.0,326.2 L243.5,326.8 L244.0,327.4 L244.5,328.0 L245.0,328.6 L245.5,329.2 L246.0,329.8 L246.5,330.4 L247.0,331.0 L247.5,331.6 L248.0,332.1 L248.5,332.7 L249.0,333.2 L249.5,333.8 L250.0,334.3 L250.5,334.9 L251.0,335.4 L251.5,336.0 L252.0,336.6 L252.5,337.1 L253.0,337.7 L253.5,338.2 L254.0,338.8 L254.5,339.3 L255.0,339.9 L255.5,340.4 L256.0,340.9 L256.5,341.5 L257.0,342.0 L257.5,342.5 L258.0,343.1 L258.5,343.6 L259.0,344.1 L259.5,344.6 L260.0,345.1 L262.0,347.2 L264.0,349.2 L266.0,351.2 L268.0,353.2 L270.0,355.2 L272.0,357.1 L274.0,359.1 L276.0,361.1 L278.0,363.1 L280.0,365.1 L282.0,367.1 L284.0,369.0 L286.0,370.9 L288.0,372.8 L290.0,374.5 L292.0,376.2 L294.0,377.9 L296.0,379.6 L298.0,381.2 L300.0,382.6 L302.0,383.9 L304.0,385.0 L306.0,386.0 L308.0,386.9 L310.0,387.8 L312.0,388.7 L314.0,389.6 L316.0,390.4 L318.0,391.1 L320.0,391.9 L322.0,392.6 L324.0,393.2 L326.0,393.8 L328.0,394.4 L330.0,395.0 L332.0,395.5 L334.0,395.9 L336.0,396.3 L338.0,396.7 L340.0,397.1 L342.0,397.4 L344.0,397.8 L346.0,398.1 L348.0,398.4 L350.0,398.7 L352.0,399.0 L354.0,399.3 L356.0,399.6 L358.0,399.8 L360.0,400.1 L362.0,400.3 L364.0,400.5 L366.0,400.7 L368.0,400.9 L370.0,401.1 L372.0,401.3 L374.0,401.5 L376.0,401.7 L378.0,401.8 L380.0,402.0 L382.0,402.2 L384.0,402.3 L386.0,402.5 L388.0,402.6 L390.0,402.8 L392.0,402.9 L394.0,403.1 L396.0,403.2 L398.0,403.3 L400.0,403.5 L402.0,403.6 L404.0,403.7 L406.0,403.8 L408.0,403.9 L410.0,404.0 L412.0,404.1 L414.0,404.1 L416.0,404.2 L418.0,404.3 L420.0,404.3 L422.0,404.3 L424.0,404.3 L426.0,404.3 L428.0,404.4 L430.0,404.4 L432.0,404.4 L434.0,404.4 L436.0,404.4 L438.0,404.4 L440.0,404.5 L442.0,404.5 L444.0,404.5 L446.0,404.5 L448.0,404.5 L450.0,404.5 L452.0,404.5 L454.0,404.6 L456.0,404.6 L458.0,404.6 L460.0,404.6 L462.0,404.6 L464.0,404.6 L466.0,404.6 L468.0,404.6 L470.0,404.6 L472.0,404.6 L474.0,404.6 L476.0,404.7 L478.0,404.7 L480.0,404.7 L482.0,404.7 L484.0,404.7 L486.0,404.7 L488.0,404.7 L490.0,404.7 L492.0,404.7 L494.0,404.7 L496.0,404.7 L498.0,404.7 L500.0,404.7 L502.0,404.7 L504.0,404.7 L505.6,404.7" stroke="#7030A0"/>
<path d="M158.0,0.0 L158.5,1.7 L159.0,3.5 L159.5,5.2 L160.0,7.0 L160.5,8.7 L161.0,10.5 L161.5,12.2 L162.0,14.0 L162.5,15.7 L163.0,17.5 L163.5,19.2 L164.0,20.9 L164.5,22.6 L165.0,24.3 L165.5,25.9 L166.0,27.6 L166.5,29.3 L167.0,31.0 L167.5,32.6 L168.0,34.3 L168.5,36.0 L169.0,37.7 L169.5,39.4 L170.0,41.2 L170.5,42.9 L171.0,44.7 L171.5,46.5 L172.0,48.3 L172.5,50.2 L173.0,52.1 L173.5,54.0 L174.0,56.0 L174.5,58.0 L175.0,60.0 L175.5,62.1 L176.0,64.3 L176.5,66.5 L177.0,68.8 L177.5,71.2 L178.0,73.6 L178.5,76.1 L179.0,78.6 L179.5,81.1 L180.0,83.6 L180.5,86.2 L181.0,88.8 L181.5,91.3 L182.0,93.8 L182.5,96.4 L183.0,98.9 L183.5,101.4 L184.0,103.8 L184.5,106.2 L185.0,108.5 L185.5,110.8 L186.0,113.1 L186.5,115.3 L187.0,117.5 L187.5,119.8 L188.0,122.0 L188.5,124.2 L189.0,126.3 L189.5,128.5 L190.0,130.7 L190.5,132.8 L191.0,135.0 L191.5,137.2 L192.0,139.3 L192.5,141.5 L193.0,143.6 L193.5,145.8 L194.0,147.9 L194.5,150.0 L195.0,152.2 L195.5,154.3 L196.0,156.4 L196.5,158.6 L197.0,160.7 L197.5,162.8 L198.0,164.9 L198.5,167.0 L199.0,169.1 L199.5,171.2 L200.0,173.3 L200.5,175.4 L201.0,177.5 L201.5,179.5 L202.0,181.6 L202.5,183.7 L203.0,185.8 L203.5,187.8 L204.0,189.9 L204.5,191.9 L205.0,194.0 L205.5,196.0 L206.0,198.1 L206.5,200.1 L207.0,202.2 L207.5,204.2 L208.0,206.1 L208.5,208.0 L209.0,209.8 L209.5,211.5 L210.0,213.3 L210.5,215.0 L211.0,216.7 L211.5,218.4 L212.0,220.0 L212.5,221.6 L213.0,223.2 L213.5,224.8 L214.0,226.4 L214.5,228.0 L215.0,229.5 L215.5,231.0 L216.0,232.6 L216.5,234.1 L217.0,235.6 L217.5,237.0 L218.0,238.5 L218.5,240.0 L219.0,241.4 L219.5,242.9 L220.0,244.3 L220.5,245.7 L221.0,247.1 L221.5,248.6 L222.0,250.0 L222.5,251.4 L223.0,252.9 L223.5,254.3 L224.0,255.7 L224.5,257.2 L225.0,258.6 L225.5,260.0 L226.0,261.5 L226.5,262.9 L227.0,264.3 L227.5,265.7 L228.0,267.2 L228.5,268.6 L229.0,270.0 L229.5,271.3 L230.0,272.7 L230.5,274.1 L231.0,275.5 L231.5,276.8 L232.0,278.2 L232.5,279.5 L233.0,280.8 L233.5,282.1 L234.0,283.4 L234.5,284.6 L235.0,285.9 L235.5,287.1 L236.0,288.3 L236.5,289.5 L237.0,290.6 L237.5,291.8 L238.0,292.9 L238.5,294.0 L239.0,295.1 L239.5,296.1 L240.0,297.1 L240.5,298.1 L241.0,299.1 L241.5,300.0 L242.0,300.9 L242.5,301.8 L243.0,302.6 L243.5,303.4 L244.0,304.2 L244.5,305.0 L245.0,305.7 L245.5,306.5 L246.0,307.2 L246.5,307.9 L247.0,308.6 L247.5,309.3 L248.0,310.0 L248.5,310.7 L249.0,311.4 L249.5,312.0 L250.0,312.7 L250.5,313.4 L251.0,314.1 L251.5,314.9 L252.0,315.6 L252.5,316.4 L253.0,317.1 L253.5,317.9 L254.0,318.7 L254.5,319.5 L255.0,320.3 L255.5,321.1 L256.0,321.9 L256.5,322.8 L257.0,323.6 L257.5,324.4 L258.0,325.3 L258.5,326.1 L259.0,327.0 L259.5,327.9 L260.0,328.7 L262.0,332.2 L264.0,335.5 L266.0,338.8 L268.0,342.0 L270.0,344.9 L272.0,347.6 L274.0,350.0 L276.0,352.1 L278.0,353.9 L280.0,355.6 L282.0,357.2 L284.0,358.6 L286.0,360.1 L288.0,361.5 L290.0,363.0 L292.0,364.5 L294.0,366.1 L296.0,367.6 L298.0,369.1 L300.0,370.5 L302.0,371.8 L304.0,373.0 L306.0,374.2 L308.0,375.3 L310.0,376.4 L312.0,377.4 L314.0,378.5 L316.0,379.5 L318.0,380.4 L320.0,381.4 L322.0,382.3 L324.0,383.2 L326.0,384.0 L328.0,384.8 L330.0,385.6 L332.0,386.4 L334.0,387.1 L336.0,387.7 L338.0,388.4 L340.0,389.0 L342.0,389.6 L344.0,390.2 L346.0,390.8 L348.0,391.4 L350.0,392.0 L352.0,392.5 L354.0,393.0 L356.0,393.5 L358.0,394.0 L360.0,394.5 L362.0,395.0 L364.0,395.5 L366.0,395.9 L368.0,396.3 L370.0,396.7 L372.0,397.1 L374.0,397.5 L376.0,397.8 L378.0,398.2 L380.0,398.5 L382.0,398.8 L384.0,399.1 L386.0,399.4 L388.0,399.8 L390.0,400.1 L392.0,400.4 L394.0,400.7 L396.0,401.0 L398.0,401.2 L400.0,401.5 L402.0,401.8 L404.0,402.0 L406.0,402.2 L408.0,402.5 L410.0,402.6 L412.0,402.8 L414.0,403.0 L416.0,403.1 L418.0,403.2 L420.0,403.3 L422.0,403.3 L424.0,403.4 L426.0,403.4 L428.0,403.4 L430.0,403.5 L432.0,403.5 L434.0,403.6 L436.0,403.6 L438.0,403.6 L440.0,403.7 L442.0,403.7 L444.0,403.7 L446.0,403.8 L448.0,403.8 L450.0,403.8 L452.0,403.8 L454.0,403.9 L456.0,403.9 L458.0,403.9 L460.0,403.9 L462.0,404.0 L464.0,404.0 L466.0,404.0 L468.0,404.0 L470.0,404.0 L472.0,404.1 L474.0,404.1 L476.0,404.1 L478.0,404.1 L480.0,404.1 L482.0,404.1 L484.0,404.1 L486.0,404.2 L488.0,404.2 L490.0,404.2 L492.0,404.2 L494.0,404.2 L496.0,404.2 L498.0,404.2 L500.0,404.2 L502.0,404.2 L504.0,404.2 L505.6,404.2" stroke="#000000"/>
<path d="M145.0,0.0 L145.5,1.4 L146.0,2.9 L146.5,4.3 L147.0,5.8 L147.5,7.2 L148.0,8.7 L148.5,10.2 L149.0,11.6 L149.5,13.1 L150.0,14.6 L150.5,16.1 L151.0,17.6 L151.5,19.0 L152.0,20.5 L152.5,22.0 L153.0,23.4 L153.5,24.9 L154.0,26.4 L154.5,27.8 L155.0,29.3 L155.5,30.8 L156.0,32.3 L156.5,33.8 L157.0,35.3 L157.5,36.8 L158.0,38.4 L158.5,39.9 L159.0,41.5 L159.5,43.0 L160.0,44.6 L160.5,46.2 L161.0,47.9 L161.5,49.5 L162.0,51.2 L162.5,52.9 L163.0,54.6 L163.5,56.3 L164.0,58.1 L164.5,59.9 L165.0,61.8 L165.5,63.6 L166.0,65.5 L166.5,67.4 L167.0,69.3 L167.5,71.2 L168.0,73.2 L168.5,75.2 L169.0,77.2 L169.5,79.2 L170.0,81.2 L170.5,83.3 L171.0,85.4 L171.5,87.4 L172.0,89.5 L172.5,91.6 L173.0,93.7 L173.5,95.9 L174.0,98.0 L174.5,100.2 L175.0,102.4 L175.5,104.6 L176.0,106.9 L176.5,109.2 L177.0,111.5 L177.5,113.8 L178.0,116.2 L178.5,118.5 L179.0,120.9 L179.5,123.3 L180.0,125.7 L180.5,128.0 L181.0,130.4 L181.5,132.7 L182.0,135.0 L182.5,137.3 L183.0,139.6 L183.5,141.9 L184.0,144.2 L184.5,146.4 L185.0,148.7 L185.5,151.0 L186.0,153.3 L186.5,155.6 L187.0,157.9 L187.5,160.3 L188.0,162.6 L188.5,165.0 L189.0,167.3 L189.5,169.7 L190.0,172.0 L190.5,174.3 L191.0,176.5 L191.5,178.7 L192.0,180.9 L192.5,183.1 L193.0,185.2 L193.5,187.2 L194.0,189.2 L194.5,191.1 L195.0,193.0 L195.5,194.8 L196.0,196.5 L196.5,198.2 L197.0,199.9 L197.5,201.5 L198.0,203.2 L198.5,204.8 L199.0,206.5 L199.5,208.2 L200.0,209.9 L200.5,211.7 L201.0,213.6 L201.5,215.4 L202.0,217.3 L202.5,219.2 L203.0,221.0 L203.5,222.8 L204.0,224.6 L204.5,226.4 L205.0,228.2 L205.5,230.0 L206.0,231.8 L206.5,233.6 L207.0,235.4 L207.5,237.2 L208.0,239.0 L208.5,240.8 L209.0,242.5 L209.5,244.3 L210.0,246.1 L210.5,247.9 L211.0,249.6 L211.5,251.4 L212.0,253.1 L212.5,254.9 L213.0,256.6 L213.5,258.4 L214.0,260.1 L214.5,261.8 L215.0,263.6 L215.5,265.3 L216.0,267.0 L216.5,268.8 L217.0,270.5 L217.5,272.2 L218.0,273.9 L218.5,275.6 L219.0,277.4 L219.5,279.2 L220.0,281.0 L220.5,282.8 L221.0,284.5 L221.5,286.3 L222.0,288.1 L222.5,289.8 L223.0,291.5 L223.5,293.1 L224.0,294.6 L224.5,296.1 L225.0,297.5 L225.5,298.8 L226.0,300.0 L226.5,301.3 L227.0,302.5 L227.5,303.7 L228.0,304.9 L228.5,306.0 L229.0,307.1 L229.5,308.2 L230.0,309.3 L230.5,310.4 L231.0,311.4 L231.5,312.5 L232.0,313.5 L232.5,314.4 L233.0,315.4 L233.5,316.3 L234.0,317.3 L234.5,318.2 L235.0,319.0 L235.5,319.9 L236.0,320.8 L236.5,321.6 L237.0,322.4 L237.5,323.2 L238.0,324.0 L238.5,324.8 L239.0,325.5 L239.5,326.3 L240.0,327.0 L240.5,327.7 L241.0,328.4 L241.5,329.1 L242.0,329.8 L242.5,330.5 L243.0,331.1 L243.5,331.8 L244.0,332.4 L244.5,333.1 L245.0,333.7 L245.5,334.3 L246.0,334.9 L246.5,335.5 L247.0,336.1 L247.5,336.7 L248.0,337.2 L248.5,337.8 L249.0,338.4 L249.5,338.9 L250.0,339.5 L250.5,340.0 L251.0,340.5 L251.5,341.1 L252.0,341.6 L252.5,342.1 L253.0,342.6 L253.5,343.1 L254.0,343.6 L254.5,344.1 L255.0,344.6 L255.5,345.1 L256.0,345.5 L256.5,346.0 L257.0,346.5 L257.5,346.9 L258.0,347.4 L258.5,347.8 L259.0,348.2 L259.5,348.7 L260.0,349.1 L262.0,350.8 L264.0,352.4 L266.0,354.0 L268.0,355.7 L270.0,357.3 L272.0,359.0 L274.0,360.7 L276.0,362.5 L278.0,364.4 L280.0,366.3 L282.0,368.2 L284.0,370.1 L286.0,372.0 L288.0,373.8 L290.0,375.5 L292.0,377.2 L294.0,378.9 L296.0,380.6 L298.0,382.2 L300.0,383.6 L302.0,384.9 L304.0,386.0 L306.0,386.9 L308.0,387.9 L310.0,388.8 L312.0,389.7 L314.0,390.5 L316.0,391.3 L318.0,392.1 L320.0,392.8 L322.0,393.5 L324.0,394.1 L326.0,394.7 L328.0,395.3 L330.0,395.8 L332.0,396.3 L334.0,396.8 L336.0,397.2 L338.0,397.5 L340.0,397.8 L342.0,398.2 L344.0,398.5 L346.0,398.8 L348.0,399.1 L350.0,399.3 L352.0,399.6 L354.0,399.8 L356.0,400.1 L358.0,400.3 L360.0,400.5 L362.0,400.7 L364.0,400.9 L366.0,401.1 L368.0,401.3 L370.0,401.5 L372.0,401.7 L374.0,401.8 L376.0,402.0 L378.0,402.1 L380.0,402.3 L382.0,402.5 L384.0,402.6 L386.0,402.8 L388.0,402.9 L390.0,403.1 L392.0,403.3 L394.0,403.4 L396.0,403.6 L398.0,403.7 L400.0,403.9 L402.0,404.0 L404.0,404.1 L406.0,404.2 L408.0,404.3 L410.0,404.4 L412.0,404.5 L414.0,404.6 L416.0,404.6 L418.0,404.7 L420.0,404.7 L422.0,404.7 L424.0,404.7 L426.0,404.7 L428.0,404.7 L430.0,404.7 L432.0,404.7 L434.0,404.7 L436.0,404.7 L438.0,404.7 L440.0,404.7 L442.0,404.7 L444.0,404.7 L446.0,404.7 L448.0,404.7 L450.0,404.7 L452.0,404.7 L454.0,404.7 L456.0,404.7 L458.0,404.7 L460.0,404.7 L462.0,404.7 L464.0,404.7 L466.0,404.7 L468.0,404.7 L470.0,404.7 L472.0,404.7 L474.0,404.7 L476.0,404.7 L478.0,404.7 L480.0,404.7 L482.0,404.7 L484.0,404.7 L486.0,404.7 L488.0,404.7 L490.0,404.7 L492.0,404.7 L494.0,404.7 L496.0,404.7 L498.0,404.7 L500.0,404.7 L502.0,404.7 L504.0,404.7 L505.6,404.7" stroke="#0070C0"/>
</g>
<g>
<g fill="#5B9BD5"><circle cx="134.3" cy="301.8" r="6.4"/><circle cx="168.0" cy="423.3" r="6.4"/><circle cx="184.9" cy="432.7" r="6.4"/><circle cx="201.8" cy="431.0" r="6.4"/><circle cx="218.7" cy="426.2" r="6.4"/><circle cx="252.4" cy="418.5" r="6.4"/><circle cx="303.1" cy="410.5" r="6.4"/><circle cx="336.8" cy="406.8" r="6.4"/><circle cx="421.2" cy="404.7" r="6.4"/><circle cx="505.6" cy="404.7" r="6.4"/></g>
<g fill="#ED7D31"><circle cx="134.3" cy="113.1" r="6.4"/><circle cx="168.0" cy="257.0" r="6.4"/><circle cx="184.9" cy="285.2" r="6.4"/><circle cx="201.8" cy="295.4" r="6.4"/><circle cx="218.7" cy="324.7" r="6.4"/><circle cx="252.4" cy="332.3" r="6.4"/><circle cx="303.1" cy="373.0" r="6.4"/><circle cx="336.8" cy="388.5" r="6.4"/><circle cx="421.2" cy="403.5" r="6.4"/><circle cx="505.6" cy="404.5" r="6.4"/></g>
<g fill="#A5A5A5"><circle cx="134.3" cy="202.3" r="6.4"/><circle cx="168.0" cy="345.8" r="6.4"/><circle cx="184.9" cy="367.8" r="6.4"/><circle cx="201.8" cy="379.3" r="6.4"/><circle cx="218.7" cy="387.6" r="6.4"/><circle cx="252.4" cy="401.0" r="6.4"/><circle cx="303.1" cy="409.0" r="6.4"/><circle cx="336.8" cy="406.5" r="6.4"/><circle cx="421.2" cy="404.7" r="6.4"/><circle cx="505.6" cy="404.7" r="6.4"/></g>
<g fill="#FFC000"><circle cx="134.3" cy="199.2" r="6.4"/><circle cx="168.0" cy="352.7" r="6.4"/><circle cx="184.9" cy="374.6" r="6.4"/><circle cx="201.8" cy="388.0" r="6.4"/><circle cx="218.7" cy="394.3" r="6.4"/><circle cx="252.4" cy="407.7" r="6.4"/><circle cx="303.1" cy="405.8" r="6.4"/><circle cx="336.8" cy="407.2" r="6.4"/><circle cx="421.2" cy="405.0" r="6.4"/><circle cx="505.6" cy="404.7" r="6.4"/></g>
<g fill="#C00000"><circle cx="134.3" cy="81.7" r="6.4"/><circle cx="168.0" cy="261.2" r="6.4"/><circle cx="184.9" cy="289.2" r="6.4"/><circle cx="201.8" cy="303.9" r="6.4"/><circle cx="218.7" cy="312.2" r="6.4"/><circle cx="252.4" cy="339.0" r="6.4"/><circle cx="303.1" cy="371.5" r="6.4"/><circle cx="336.8" cy="387.0" r="6.4"/><circle cx="421.2" cy="403.0" r="6.4"/><circle cx="505.6" cy="404.3" r="6.4"/></g>
<g fill="#70AD47"><circle cx="134.3" cy="217.1" r="6.4"/><circle cx="168.0" cy="359.6" r="6.4"/><circle cx="184.9" cy="379.3" r="6.4"/><circle cx="201.8" cy="388.6" r="6.4"/><circle cx="218.7" cy="394.9" r="6.4"/><circle cx="252.4" cy="401.3" r="6.4"/><circle cx="303.1" cy="403.0" r="6.4"/><circle cx="336.8" cy="404.6" r="6.4"/><circle cx="421.2" cy="404.7" r="6.4"/><circle cx="505.6" cy="404.7" r="6.4"/></g>
<g fill="#7030A0"><circle cx="168.0" cy="28.8" r="6.4"/><circle cx="184.9" cy="119.8" r="6.4"/><circle cx="201.8" cy="197.5" r="6.4"/><circle cx="218.7" cy="261.9" r="6.4"/><circle cx="252.4" cy="335.8" r="6.4"/><circle cx="303.1" cy="384.5" r="6.4"/><circle cx="336.8" cy="396.5" r="6.4"/><circle cx="421.2" cy="404.3" r="6.4"/><circle cx="505.6" cy="404.7" r="6.4"/></g>
<g fill="#000000"><circle cx="168.0" cy="25.2" r="6.4"/><circle cx="184.9" cy="108.6" r="6.4"/><circle cx="201.8" cy="195.6" r="6.4"/><circle cx="218.7" cy="248.1" r="6.4"/><circle cx="252.4" cy="316.2" r="6.4"/><circle cx="303.1" cy="372.5" r="6.4"/><circle cx="336.8" cy="388.0" r="6.4"/><circle cx="421.2" cy="403.3" r="6.4"/><circle cx="505.6" cy="404.2" r="6.4"/></g>
<g fill="#0070C0"><circle cx="168.0" cy="57.1" r="6.4"/><circle cx="184.9" cy="148.7" r="6.4"/><circle cx="201.8" cy="218.5" r="6.4"/><circle cx="218.7" cy="274.6" r="6.4"/><circle cx="252.4" cy="342.0" r="6.4"/><circle cx="303.1" cy="385.5" r="6.4"/><circle cx="336.8" cy="397.3" r="6.4"/><circle cx="421.2" cy="404.7" r="6.4"/><circle cx="505.6" cy="404.7" r="6.4"/></g>
</g>
</svg>
</body></html>
